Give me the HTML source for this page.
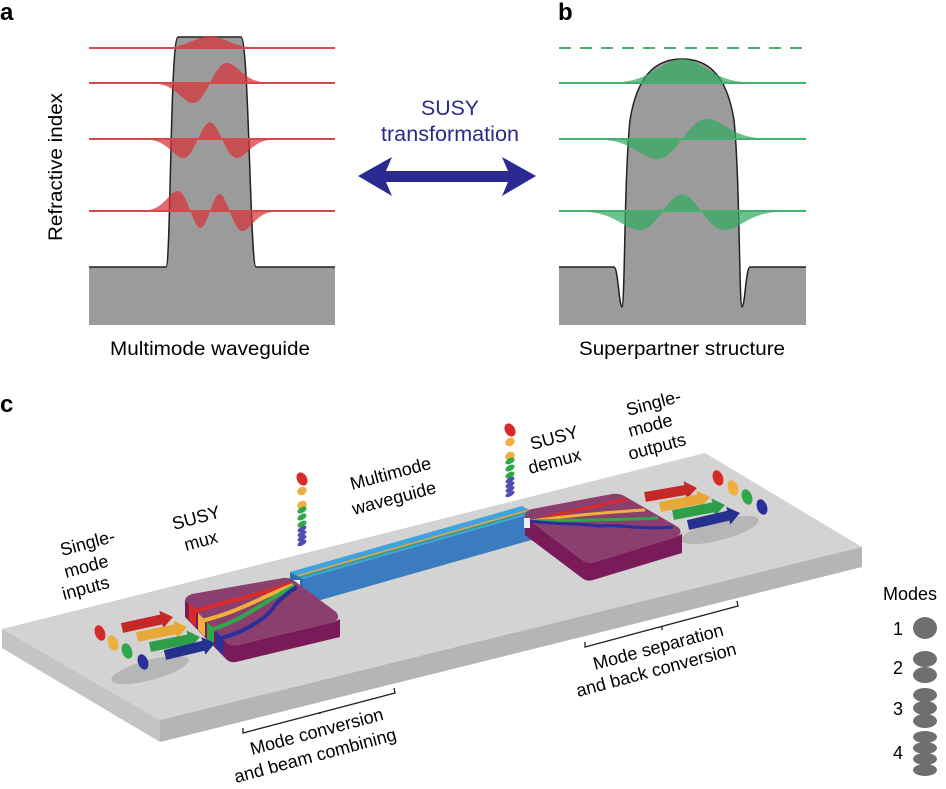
<!DOCTYPE html>
<html><head><meta charset="utf-8"><style>
html,body{margin:0;padding:0;background:#fff;}
svg{display:block;}
text{font-family:"Liberation Sans",Arial,sans-serif;}
</style></head><body>
<svg id="s" width="946" height="789" viewBox="0 0 946 789" xmlns="http://www.w3.org/2000/svg">
<text x="0" y="20" font-size="24" font-weight="bold">a</text>
<text x="558" y="20" font-size="24" font-weight="bold">b</text>
<text x="0" y="412" font-size="24" font-weight="bold">c</text>

<!-- panel a -->
<path d="M89,267 H166 C171,267 170,38 178,37 H241 C249,38 250,267 256,267 H335 V325 H89Z" fill="#9b9b9b"/>
<path d="M89,267 H166 C171,267 170,38 178,37 H241 C249,38 250,267 256,267 H335" fill="none" stroke="#222" stroke-width="1.5"/>
<g id="amodes"></g>
<text x="62" y="167" font-size="19" text-anchor="middle" transform="rotate(-90 62 167)" textLength="148" lengthAdjust="spacingAndGlyphs">Refractive index</text>
<text x="210" y="355" font-size="19" text-anchor="middle" textLength="200" lengthAdjust="spacingAndGlyphs">Multimode waveguide</text>

<!-- panel b -->
<path d="M559,267 H614 C618,267 619,306 622,307 C625,306 624,180 630,120 C638,70 660,59 682,59 C704,59 726,70 734,120 C740,180 739,306 742,307 C745,306 746,267 750,267 H806 V325 H559Z" fill="#9b9b9b"/>
<path d="M559,267 H614 C618,267 619,306 622,307 C625,306 624,180 630,120 C638,70 660,59 682,59 C704,59 726,70 734,120 C740,180 739,306 742,307 C745,306 746,267 750,267 H806" fill="none" stroke="#222" stroke-width="1.5"/>
<line x1="559" y1="48" x2="806" y2="48" stroke="#4caf72" stroke-width="2" stroke-dasharray="12,9"/>
<g id="bmodes"></g>
<text x="682" y="355" font-size="19" text-anchor="middle" textLength="206" lengthAdjust="spacingAndGlyphs">Superpartner structure</text>

<!-- SUSY arrow -->
<text x="450" y="115" font-size="21" fill="#2b2a8c" text-anchor="middle" textLength="58" lengthAdjust="spacingAndGlyphs">SUSY</text>
<text x="450" y="141" font-size="21" fill="#2b2a8c" text-anchor="middle" textLength="138" lengthAdjust="spacingAndGlyphs">transformation</text>
<path d="M358,176 L392,157 L386,171 H508 L502,157 L536,176 L502,196 L508,182 H386 L392,196Z" fill="#2a2a90"/>

<!-- platform -->
<polygon points="2,629 705,453 862,547 160,720" fill="#d3d3d3"/>
<polygon points="160,720 862,547 862,567 160,742" fill="#b5b5b5"/>
<polygon points="2,629 160,720 160,742 2,648" fill="#c4c4c4"/>

<ellipse cx="150" cy="670" rx="40" ry="10" fill="#999" opacity="0.5" transform="rotate(-15 150 670)"/>
<ellipse cx="720" cy="530" rx="40" ry="10" fill="#999" opacity="0.5" transform="rotate(-15 720 530)"/>

<!-- waveguide -->
<polygon points="290,572 522,506 535,513 303,579" fill="#3ea3de"/>
<line x1="297" y1="576" x2="529" y2="510" stroke="#e6a545" stroke-width="1.5"/>
<line x1="299" y1="577.5" x2="531" y2="511.5" stroke="#3a9a50" stroke-width="1"/>
<polygon points="303,579 535,513 535,539 303,605" fill="#3b7bc0"/>
<polygon points="290,572 303,579 303,605 290,598" fill="#2f6fb5"/>
<rect x="293" y="580" width="7" height="11" fill="#eee"/>

<!-- mux -->
<path d="M185,600 Q186,596 192,594 L283,578 Q290,577 296,582 L336,612 Q341,618 334,622 L238,645 Q231,647 226,642 Z" fill="#8b3f6e"/>
<path d="M185,600 L226,642 Q231,647 238,645 L334,622 Q341,618 340,620 L340,637 L236,662 Q230,663 226,659 L185,617Z" fill="#7b1a58"/>
<g stroke-width="4" fill="none">
<path d="M193,612 C230,600 260,595 290,584" stroke="#d92a2a"/>
<path d="M201,621 C240,612 265,595 293,585" stroke="#f0b040"/>
<path d="M210,630 C245,620 265,600 295,586" stroke="#2fa84a"/>
<path d="M222,638 C250,630 270,615 275,605 C282,598 288,592 297,587" stroke="#2a2f9a"/>
</g>
<polygon points="189,603 196,610 196,627 189,620" fill="#d92a2a"/>
<polygon points="198,613 205,620 205,637 198,630" fill="#f0b040"/>
<polygon points="207,622 214,629 214,646 207,639" fill="#2fa84a"/>
<polygon points="216,631 223,638 223,655 216,648" fill="#2a2f9a"/>

<!-- demux -->
<path d="M525,517 Q524,511 532,509 L612,494 Q620,493 626,497 L678,527 Q684,533 676,537 L595,562 Q588,564 582,560 Z" fill="#8b3f6e"/>
<path d="M525,517 L582,560 Q588,564 595,562 L676,537 Q684,533 682,533 L682,553 L593,580 Q587,582 582,578 L525,535Z" fill="#7b1a58"/>
<g stroke-width="3" fill="none">
<path d="M530,521 C570,512 600,505 627,499" stroke="#d92a2a"/>
<path d="M530,521 C575,515 610,512 645,510" stroke="#f0b040"/>
<path d="M530,521 C580,520 620,520 658,518" stroke="#2fa84a"/>
<path d="M530,521 C560,525 580,523 600,526 C620,524 640,530 673,527" stroke="#2a2f9a"/>
</g>
<rect x="524" y="518" width="6" height="10" fill="#eee"/>

<g id="arrows"></g>

<g transform="rotate(-20 100 633)"><ellipse cx="100" cy="633" rx="5" ry="8" fill="#d92a2a"/></g>
<g transform="rotate(-20 113 643)"><ellipse cx="113" cy="643" rx="5" ry="8" fill="#f0b040"/></g>
<g transform="rotate(-20 127 651)"><ellipse cx="127" cy="651" rx="5" ry="8" fill="#2fa84a"/></g>
<g transform="rotate(-20 143 662)"><ellipse cx="143" cy="662" rx="5" ry="8" fill="#2a2f9a"/></g>
<g transform="rotate(-20 718 478)"><ellipse cx="718" cy="478" rx="5" ry="8" fill="#d92a2a"/></g>
<g transform="rotate(-20 733 488)"><ellipse cx="733" cy="488" rx="5" ry="8" fill="#f0b040"/></g>
<g transform="rotate(-20 747 497)"><ellipse cx="747" cy="497" rx="5" ry="8" fill="#2fa84a"/></g>
<g transform="rotate(-20 762 507)"><ellipse cx="762" cy="507" rx="5" ry="8" fill="#2a2f9a"/></g>

<g id="stacks"></g>

<g font-size="18">
<text transform="translate(62,556) rotate(-15)">Single-</text>
<text transform="translate(66,578) rotate(-15)">mode</text>
<text transform="translate(64,600) rotate(-15)">inputs</text>
<text transform="translate(174,530) rotate(-15)">SUSY</text>
<text transform="translate(186,551) rotate(-15)">mux</text>
<text transform="translate(352,490) rotate(-15)">Multimode</text>
<text transform="translate(354,515) rotate(-15)">waveguide</text>
<text transform="translate(532,450) rotate(-15)">SUSY</text>
<text transform="translate(530,474) rotate(-15)">demux</text>
<text transform="translate(628,416) rotate(-15)">Single-</text>
<text transform="translate(630,437) rotate(-15)">mode</text>
<text transform="translate(630,460) rotate(-15)">outputs</text>
<text transform="translate(595,670) rotate(-15)">Mode separation</text>
<text transform="translate(578,697) rotate(-15)">and back conversion</text>
<text transform="translate(252,755) rotate(-15)">Mode conversion</text>
<text transform="translate(236,783) rotate(-15)">and beam combining</text>
</g>
<path d="M585,642 L585,647 L738,606 L737,601 M662,626 L662,630" fill="none" stroke="#222" stroke-width="1.3"/>
<path d="M243,728 L243,733 L395,693 L394,688 M320,712 L320,714" fill="none" stroke="#222" stroke-width="1.3"/>

<text x="883" y="600" font-size="18">Modes</text>
<g font-size="18"><text x="893" y="635">1</text><text x="893" y="674">2</text><text x="893" y="715">3</text><text x="893" y="759">4</text></g>
<g fill="#6f6f6f">
<ellipse cx="925" cy="628" rx="12" ry="11"/>
<ellipse cx="925" cy="659" rx="12" ry="8"/><ellipse cx="925" cy="675" rx="12" ry="8"/>
<ellipse cx="925" cy="695" rx="12" ry="7"/><ellipse cx="925" cy="708" rx="12" ry="7"/><ellipse cx="925" cy="721" rx="12" ry="7"/>
<ellipse cx="925" cy="737" rx="12" ry="6"/><ellipse cx="925" cy="748" rx="12" ry="6"/><ellipse cx="925" cy="759" rx="12" ry="6"/><ellipse cx="925" cy="770" rx="12" ry="6"/>
</g>
</svg>
<script>
(function(){
var NS="http://www.w3.org/2000/svg";
function herm(n,u){return [1,2*u,4*u*u-2,8*u*u*u-12*u][n];}
function mode(g,n,sign,cx,y0,sig,amp,x0,x1,fill,line){
  var pts=[],mx=0,i,u,v;
  for(i=0;i<=240;i++){var x=x0+(x1-x0)*i/240;u=(x-cx)/sig;v=herm(n,u)*Math.exp(-u*u/2);pts.push([x,v]);if(Math.abs(v)>mx)mx=Math.abs(v);}
  var d="M"+x0+","+y0;
  pts.forEach(function(p){d+=" L"+p[0].toFixed(1)+","+(y0-sign*amp*p[1]/mx).toFixed(1);});
  d+=" L"+x1+","+y0+"Z";
  var p=document.createElementNS(NS,"path");p.setAttribute("d",d);p.setAttribute("fill",fill);g.appendChild(p);
  var l=document.createElementNS(NS,"line");l.setAttribute("x1",x0);l.setAttribute("x2",x1);l.setAttribute("y1",y0);l.setAttribute("y2",y0);
  l.setAttribute("stroke",line);l.setAttribute("stroke-width","2");g.appendChild(l);
}
var a=document.getElementById("amodes"),R="rgba(215,50,55,0.72)",RL="#d5484c";
mode(a,0,1,210,48,17,12,89,335,R,RL);
mode(a,1,1,210,83,17,20,89,335,R,RL);
mode(a,2,-1,210,139,17,19,89,335,R,RL);
mode(a,3,-1,210,211,16,20,89,335,R,RL);
var b=document.getElementById("bmodes"),G="rgba(50,170,95,0.72)",GL="#44b070";
mode(b,0,1,682,83,24,24,559,806,G,GL);
mode(b,1,1,682,139,25,20,559,806,G,GL);
mode(b,2,-1,682,211,27,19,559,806,G,GL);
var ar=document.getElementById("arrows");
function arrow(x0,y0,x1,y1,c){
  var dx=x1-x0,dy=y1-y0,L=Math.sqrt(dx*dx+dy*dy),ux=dx/L,uy=dy/L,nx=-uy,ny=ux,h=5,H=9,hl=12;
  var bx=x1-ux*hl,by=y1-uy*hl;
  var P=[[x0+nx*h,y0+ny*h],[bx+nx*h,by+ny*h],[bx+nx*H,by+ny*H],[x1,y1],[bx-nx*H,by-ny*H],[bx-nx*h,by-ny*h],[x0-nx*h,y0-ny*h]];
  var p=document.createElementNS(NS,"polygon");p.setAttribute("points",P.map(function(q){return q[0].toFixed(1)+","+q[1].toFixed(1)}).join(" "));
  p.setAttribute("fill",c);ar.appendChild(p);
}
arrow(122,628,173,617,"#c62828");arrow(137,637,187,627,"#e8a838");arrow(150,647,200,637,"#2f9e48");arrow(165,655,215,643,"#26318f");
arrow(645,497,697,488,"#c62828");arrow(660,507,710,497,"#e8a838");arrow(673,515,725,505,"#2f9e48");arrow(688,525,740,513,"#26318f");
var st=document.getElementById("stacks");
function stack(x,y){
  var cols=["#d92a2a","#f0b040","#2fa84a","#4a4fb0"];
  for(var k=0;k<4;k++){
    var n=k+1,yc=y+k*19;
    for(var j=0;j<n;j++){
      var e=document.createElementNS(NS,"ellipse");
      var yy=yc-7+(n==1?7:j*14/(n-1));
      e.setAttribute("cx",x);e.setAttribute("cy",yy.toFixed(1));e.setAttribute("rx","5");e.setAttribute("ry",(n==1?7:Math.max(2,7/n+0.5)).toFixed(1));
      e.setAttribute("fill",cols[k]);e.setAttribute("transform","rotate(-30 "+x+" "+yy.toFixed(1)+")");st.appendChild(e);
    }
  }
}
stack(302,479);stack(510,430);
})();
</script>
</body></html>
